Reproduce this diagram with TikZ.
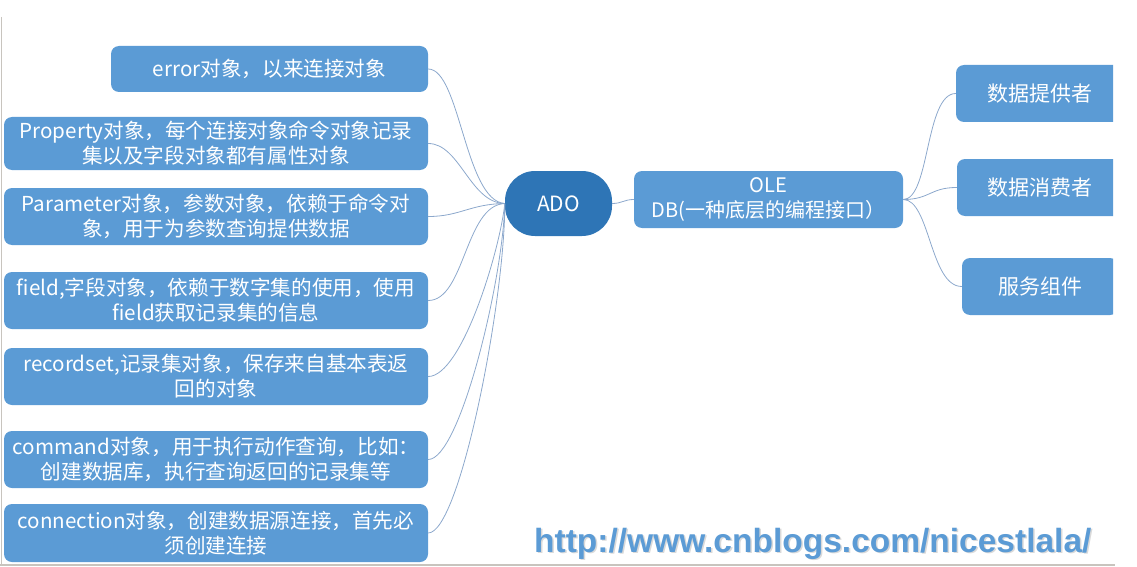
\documentclass[tikz,border=0pt]{standalone}
\usepackage{fontspec}
\setmainfont{Noto Sans CJK SC}
\newfontfamily\urlfont{Liberation Sans}
\definecolor{boxblue}{RGB}{91,155,213}
\definecolor{adoblue}{RGB}{46,117,182}
\definecolor{linkc}{RGB}{140,168,204}
\definecolor{framec}{RGB}{200,196,190}
\begin{document}
\begin{tikzpicture}[x=1pt,y=-1pt,
  leaf/.style={fill=boxblue, rounded corners=8pt, text=white, align=center, inner sep=0pt,
    font=\fontsize{20.6}{25}\selectfont},
  bigleaf/.style={leaf, font=\fontsize{21}{25}\selectfont},
  hubbox/.style={fill=adoblue, rounded corners=30pt, text=white, inner sep=0pt,
    font=\fontsize{21}{25}\selectfont},
  conn/.style={draw=linkc, line width=0.8pt}]
\useasboundingbox (0,0) rectangle (1137,567);
% frame lines
\draw[framec, line width=1pt] (1.5,17) -- (1.5,565);
\draw[framec, line width=1.2pt] (0,565) -- (1115,565);
% left boxes
\node[leaf, minimum width=317pt, minimum height=46pt] (e1) at (269.5,69) {error对象，以来连接对象};
\node[leaf, minimum width=424pt, minimum height=53pt] (e2) at (216,143.5) {Property对象，每个连接对象命令对象记录\\集以及字段对象都有属性对象};
\node[leaf, minimum width=424pt, minimum height=57pt] (e3) at (216,216.5) {Parameter对象，参数对象，依赖于命令对\\象，用于为参数查询提供数据};
\node[leaf, minimum width=424pt, minimum height=57pt] (e4) at (216,300.5) {field,字段对象，依赖于数字集的使用，使用\\field获取记录集的信息};
\node[leaf, minimum width=424pt, minimum height=57pt] (e5) at (216,376.5) {recordset,记录集对象，保存来自基本表返\\回的对象};
\node[leaf, minimum width=424pt, minimum height=57pt] (e6) at (216,459.5) {command对象，用于执行动作查询，比如：\\创建数据库，执行查询返回的记录集等};
\node[leaf, minimum width=424pt, minimum height=58pt] (e7) at (216,533) {connection对象，创建数据源连接，首先必\\须创建连接};
% centre
\node[hubbox, minimum width=107pt, minimum height=65pt] (ado) at (558.5,203.5) {ADO};
\node[leaf, minimum width=269pt, minimum height=57pt, font=\fontsize{20}{25}\selectfont] (ole) at (768.5,199.5) {OLE\\DB(一种底层的编程接口）};
% right boxes (clipped at the picture's right edge)
\begin{scope}
\clip (0,0) rectangle (1113,567);
\node[bigleaf, minimum width=168pt, minimum height=57pt] (r1) at (1040,93.5) {数据提供者};
\node[bigleaf, minimum width=166pt, minimum height=57pt] (r2) at (1040,187.5) {数据消费者};
\node[bigleaf, minimum width=156pt, minimum height=57pt] (r3) at (1040,286.5) {服务组件};
\end{scope}
% connectors left
\draw[conn] (e1.east) .. controls (460,69) and (465,201) .. (ado.west);
\draw[conn] (e2.east) .. controls (460,143.5) and (470,203) .. (ado.west);
\draw[conn] (e3.east) .. controls (460,216.5) and (470,204) .. (ado.west);
\draw[conn] (e4.east) .. controls (465,300.5) and (465,205) .. (ado.west);
\draw[conn] (e5.east) .. controls (462,376.5) and (500,250) .. (ado.west);
\draw[conn] (e6.east) .. controls (460,459.5) and (503,280) .. (ado.west);
\draw[conn] (e7.east) .. controls (460,533) and (505,300) .. (ado.west);
% connectors centre and right
\draw[conn] (ado.east) .. controls (622,203.5) and (624,199.5) .. (ole.west);
\draw[conn] (ole.east) .. controls (930,199.5) and (925,93.5) .. (r1.west);
\draw[conn] (ole.east) .. controls (930,199.5) and (930,187.5) .. (r2.west);
\draw[conn] (ole.east) .. controls (930,199.5) and (930,286.5) .. (r3.west);
% url
\node[font=\urlfont\bfseries\fontsize{33.5}{40}\selectfont, text=gray!30, anchor=base west, inner sep=0pt] (urlshadow) at (535.5,553.5) {http://www.cnblogs.com/nicestlala/};
\node[font=\urlfont\bfseries\fontsize{33.5}{40}\selectfont, text=boxblue, anchor=base west, inner sep=0pt] (url) at (534,552) {http://www.cnblogs.com/nicestlala/};
\end{tikzpicture}
\end{document}
